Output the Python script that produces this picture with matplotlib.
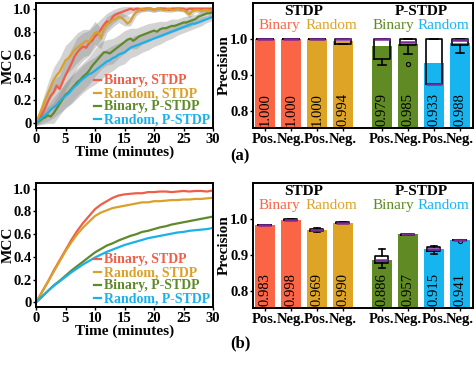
import numpy as np
import matplotlib
matplotlib.use("Agg")
import matplotlib.pyplot as plt

plt.rcParams['font.family'] = ['Liberation Serif', 'DejaVu Serif']
plt.rcParams['font.weight'] = 'bold'

# ---- data ----
series_names = ['Binary, STDP', 'Random, STDP', 'Binary, P-STDP', 'Random, P-STDP']
line_colors = ['#EE5E48', '#D9A02A', '#5E8A2C', '#1AB0EA']
bar_colors = ['#FA6546', '#FA6546', '#DDA426', '#DDA426', '#5F8A24', '#5F8A24', '#17B5F0', '#17B5F0']

# (a) noisy MCC curves, every 0.5 min
t_fine = np.arange(0, 30.01, 0.5)
mcc_a_bin_stdp = [0.00, 0.04, 0.08, 0.13, 0.19, 0.24, 0.27, 0.33, 0.30, 0.36, 0.42,
                  0.47, 0.52, 0.58, 0.62, 0.65, 0.67, 0.66, 0.70, 0.72, 0.76, 0.78,
                  0.82, 0.86, 0.89, 0.88, 0.93, 0.95, 0.96, 0.97, 0.98, 0.99, 1.00,
                  0.99, 1.00, 1.00, 0.99, 1.00, 1.00, 1.00, 0.99, 1.00, 1.00, 1.00,
                  1.00, 0.99, 1.00, 1.00, 1.00, 1.00, 1.00, 0.99, 1.00, 1.00, 1.00,
                  1.00, 1.00, 1.00, 1.00, 1.00, 1.00]
mcc_a_rnd_stdp = [0.00, 0.07, 0.13, 0.20, 0.26, 0.32, 0.38, 0.42, 0.45, 0.50, 0.55,
                  0.57, 0.60, 0.64, 0.66, 0.68, 0.70, 0.72, 0.71, 0.75, 0.79, 0.80,
                  0.74, 0.82, 0.86, 0.88, 0.90, 0.91, 0.93, 0.92, 0.90, 0.87, 0.89,
                  0.94, 0.97, 0.99, 1.00, 0.99, 1.00, 1.00, 0.99, 1.00, 1.00, 0.99,
                  0.99, 1.00, 0.99, 0.99, 1.00, 0.99, 0.99, 0.97, 0.95, 0.98, 0.99,
                  0.99, 0.98, 0.99, 0.99, 0.98, 0.99]
mcc_a_bin_pstdp = [0.00, 0.02, 0.04, 0.05, 0.07, 0.06, 0.09, 0.13, 0.17, 0.21, 0.25,
                   0.27, 0.30, 0.33, 0.36, 0.38, 0.41, 0.43, 0.46, 0.50, 0.53, 0.56,
                   0.59, 0.62, 0.62, 0.61, 0.63, 0.65, 0.67, 0.69, 0.71, 0.73, 0.74,
                   0.72, 0.74, 0.76, 0.77, 0.78, 0.79, 0.80, 0.81, 0.80, 0.82, 0.83,
                   0.83, 0.84, 0.85, 0.85, 0.86, 0.87, 0.88, 0.88, 0.89, 0.90, 0.91,
                   0.93, 0.94, 0.95, 0.96, 0.96, 0.97]
mcc_a_rnd_pstdp = [0.00, 0.03, 0.05, 0.07, 0.09, 0.12, 0.14, 0.16, 0.19, 0.22, 0.24,
                   0.26, 0.29, 0.32, 0.34, 0.37, 0.39, 0.41, 0.43, 0.44, 0.46, 0.48,
                   0.50, 0.52, 0.54, 0.55, 0.57, 0.58, 0.60, 0.61, 0.62, 0.64, 0.66,
                   0.67, 0.68, 0.69, 0.70, 0.71, 0.72, 0.73, 0.74, 0.75, 0.76, 0.77,
                   0.78, 0.79, 0.80, 0.81, 0.82, 0.83, 0.84, 0.85, 0.86, 0.87, 0.87,
                   0.88, 0.89, 0.90, 0.91, 0.92, 0.93]
# spread (half width) of the shaded bands, every minute
t_band = np.arange(0, 31)
band_stdp = [0.02, 0.06, 0.09, 0.11, 0.12, 0.13, 0.13, 0.13, 0.12, 0.11, 0.10,
             0.09, 0.07, 0.06, 0.05, 0.05, 0.04, 0.03, 0.02, 0.02, 0.02, 0.02,
             0.02, 0.02, 0.02, 0.02, 0.03, 0.02, 0.02, 0.02, 0.02]
band_pstdp = [0.02, 0.05, 0.07, 0.09, 0.10, 0.11, 0.12, 0.12, 0.12, 0.12, 0.12,
              0.12, 0.11, 0.11, 0.10, 0.10, 0.09, 0.09, 0.08, 0.08, 0.07, 0.07,
              0.06, 0.06, 0.05, 0.05, 0.05, 0.04, 0.04, 0.03, 0.03]

# (b) averaged MCC curves, every minute
t_coarse = np.arange(0, 31)
mcc_b_bin_stdp = [0, .09, .18, .28, .37, .46, .55, .63, .70, .76, .82, .86, .89, .92, .94,
                  .95, .955, .96, .96, .97, .97, .975, .975, .97, .975, .98, .975, .98,
                  .98, .975, .985]
mcc_b_rnd_stdp = [0, .09, .18, .27, .36, .45, .53, .60, .66, .71, .76, .79, .81, .83, .84,
                  .85, .86, .87, .88, .88, .89, .89, .895, .90, .90, .905, .905, .91, .91,
                  .915, .92]
mcc_b_bin_pstdp = [0, .05, .10, .15, .19, .235, .28, .32, .36, .40, .44, .47, .50, .52,
                   .545, .565, .585, .60, .62, .63, .645, .66, .67, .685, .695, .705,
                   .715, .725, .735, .745, .755]
mcc_b_rnd_pstdp = [0, .05, .10, .145, .185, .225, .265, .30, .335, .365, .395, .42, .445,
                   .465, .485, .505, .52, .535, .55, .565, .575, .585, .595, .605, .615,
                   .62, .63, .635, .64, .645, .655]

# precision bars
bar_ticks = ['Pos.', 'Neg.', 'Pos.', 'Neg.', 'Pos.', 'Neg.', 'Pos.', 'Neg.']
prec_a = [1.000, 1.000, 1.000, 0.994, 0.979, 0.985, 0.933, 0.988]
prec_b = [0.983, 0.998, 0.969, 0.990, 0.886, 0.957, 0.915, 0.941]

# box statistics drawn over the bars
box_a = dict(med=[1.000, 1.000, 1.000, 1.000, 1.000, 0.991, 0.875, 0.997],
             q1=[1.000, 1.000, 1.000, 0.985, 0.943, 0.984, 0.875, 0.984],
             q3=[1.000, 1.000, 1.000, 1.000, 1.000, 1.000, 1.000, 1.000],
             lo=[1.000, 1.000, 1.000, 0.985, 0.927, 0.958, 0.875, 0.962],
             hi=[1.000, 1.000, 1.000, 1.000, 1.000, 1.000, 1.000, 1.000],
             fl=[[], [], [], [], [], [0.930], [], []])
box_b = dict(med=[0.983, 0.998, 0.969, 0.990, 0.886, 0.957, 0.915, 0.941],
             q1=[0.982, 0.997, 0.966, 0.989, 0.878, 0.956, 0.911, 0.940],
             q3=[0.984, 0.999, 0.972, 0.991, 0.896, 0.958, 0.921, 0.942],
             lo=[0.982, 0.997, 0.963, 0.989, 0.864, 0.955, 0.902, 0.940],
             hi=[0.984, 0.999, 0.975, 0.991, 0.915, 0.959, 0.926, 0.942],
             fl=[[], [], [], [], [], [], [], [0.939]])

bar_x = [0, 1, 2, 3, 4.5, 5.5, 6.5, 7.5]


def style_axes(ax):
    for s in ax.spines.values():
        s.set_linewidth(1.4)
    ax.tick_params(direction='out', length=2.5, width=1, labelsize=10.5, pad=0.8)
    for lab in ax.get_xticklabels() + ax.get_yticklabels():
        lab.set_fontweight('bold')


def mcc_plot(ax, t, curves, band_t=None, bands=None):
    if bands is not None:
        for y, b in zip(curves, bands):
            y_b = np.asarray(y)[::2]
            ax.fill_between(band_t, y_b - np.asarray(b), np.minimum(y_b + np.asarray(b), 1.02),
                            color='#8c8c8c', alpha=0.38, lw=0)
    for y, c, name in zip(curves, line_colors, series_names):
        ax.plot(t, y, color=c, lw=1.6, label=name)
    ax.set_xlim(0, 30)
    ax.set_ylim(-0.04, 1.05)
    ax.set_xticks([0, 5, 10, 15, 20, 25, 30])
    ax.set_yticks([0, 0.2, 0.4, 0.6, 0.8, 1.0])
    ax.set_yticklabels(['0', '0.2', '0.4', '0.6', '0.8', '1.0'])
    ax.set_xlabel('Time (minutes)', fontsize=11, fontweight='bold', labelpad=0)
    ax.set_ylabel('MCC', fontsize=11, fontweight='bold')
    ax.yaxis.set_label_coords(-0.118, 0.5)
    leg = ax.legend(loc='lower right', bbox_to_anchor=(1.0, -0.01), frameon=False,
                    handlelength=0.45, handletextpad=0.25, labelspacing=0.0,
                    borderaxespad=0.0, borderpad=0.2,
                    prop={'family': 'Liberation Serif', 'weight': 'bold', 'size': 10})
    for txt, c in zip(leg.get_texts(), line_colors):
        txt.set_color(c)
    style_axes(ax)


def prec_plot(ax, vals, box, box_w):
    ax.bar(bar_x, vals, width=0.8, color=bar_colors, bottom=0, zorder=1)
    stats = []
    for i in range(len(vals)):
        stats.append(dict(med=box['med'][i], q1=box['q1'][i], q3=box['q3'][i],
                          whislo=box['lo'][i], whishi=box['hi'][i], fliers=box['fl'][i]))
    ax.bxp(stats, positions=bar_x, widths=box_w, showfliers=True, manage_ticks=False,
           boxprops=dict(color='black', lw=1.2),
           whiskerprops=dict(color='black', lw=1.2),
           capprops=dict(color='black', lw=1.2),
           medianprops=dict(color='#7B2A9A', lw=1.8),
           flierprops=dict(marker='o', markersize=3, markerfacecolor='none',
                           markeredgecolor='black', markeredgewidth=0.8))
    for x, v in zip(bar_x, vals):
        ax.text(x, 0.757, '%.3f' % v, rotation=90, ha='center', va='bottom',
                fontsize=10.5, fontweight='normal', color='black', zorder=3)
    ax.set_xlim(-0.46, 8.0)
    ax.set_ylim(0.752, 1.1)
    ax.set_yticks([0.8, 0.9, 1.0])
    ax.set_xticks(bar_x)
    ax.set_xticklabels(bar_ticks)
    ax.tick_params(axis='x', length=0)
    ax.set_ylabel('Precision', fontsize=11, fontweight='bold')
    ax.yaxis.set_label_coords(-0.1, 0.5)
    ax.text(1.5, 1.075, 'STDP', ha='center', va='center', fontsize=11, fontweight='bold')
    ax.text(6.0, 1.075, 'P-STDP', ha='center', va='center', fontsize=11, fontweight='bold')
    ax.text(0.56, 1.037, 'Binary', ha='center', va='center', fontsize=11,
            fontweight='normal', color=bar_colors[0])
    ax.text(2.56, 1.037, 'Random', ha='center', va='center', fontsize=11,
            fontweight='normal', color=bar_colors[2])
    ax.text(4.94, 1.037, 'Binary', ha='center', va='center', fontsize=11,
            fontweight='normal', color=bar_colors[4])
    ax.text(6.87, 1.037, 'Random', ha='center', va='center', fontsize=11,
            fontweight='normal', color=bar_colors[6])
    style_axes(ax)


fig = plt.figure(figsize=(4.74, 3.77), dpi=100)
W, H = 474, 377


def add_ax(left, top, right, bottom):
    return fig.add_axes([left / W, 1 - bottom / H, (right - left) / W, (bottom - top) / H])


ax1 = add_ax(36, 3, 213, 128)
ax2 = add_ax(253, 3, 473, 128)
ax3 = add_ax(36, 183, 213, 307)
ax4 = add_ax(253, 183, 473, 308)

mcc_plot(ax1, t_fine, [mcc_a_bin_stdp, mcc_a_rnd_stdp, mcc_a_bin_pstdp, mcc_a_rnd_pstdp],
         t_band, [band_stdp, band_stdp, band_pstdp, band_pstdp])
mcc_plot(ax3, t_coarse, [mcc_b_bin_stdp, mcc_b_rnd_stdp, mcc_b_bin_pstdp, mcc_b_rnd_pstdp])
prec_plot(ax2, prec_a, box_a, 0.6)
prec_plot(ax4, prec_b, box_b, 0.5)

fig.text(240 / W, 1 - 156 / H, '(a)', ha='center', va='center', fontsize=12, fontweight='bold')
fig.text(240 / W, 1 - 343 / H, '(b)', ha='center', va='center', fontsize=12, fontweight='bold')

fig.savefig('out.png', dpi=100)
